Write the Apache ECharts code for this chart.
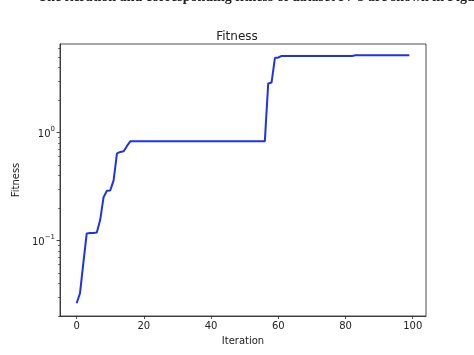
<!DOCTYPE html>
<html>
<head>
<meta charset="utf-8">
<script src="https://cdn.jsdelivr.net/npm/echarts@6/dist/echarts.min.js"></script>
<style>
html,body{margin:0;padding:0;background:#fff;}
#chart{width:474px;height:355px;}
</style>
</head>
<body>
<div id="chart"></div>
<script>
const captionText = 'The iteration and corresponding fitness of dataset IV-5 are shown in Figure';
const chartTitle = 'Fitness';
const xName = 'Iteration';
const yName = 'Fitness';
const xTicks = [0, 20, 40, 60, 80, 100];
const yMajorTicks = [0.1, 1];
const yMinorTicks = [0.02,0.03,0.04,0.05,0.06,0.07,0.08,0.09,0.2,0.3,0.4,0.5,0.6,0.7,0.8,0.9,2,3,4,5,6];
const iterations = [0,1,2,3,4,5,6,7,8,9,10,11,12,13,14,15,16,17,18,19,20,21,22,23,24,25,26,27,28,29,30,31,32,33,34,35,36,37,38,39,40,41,42,43,44,45,46,47,48,49,50,51,52,53,54,55,56,57,58,59,60,61,62,63,64,65,66,67,68,69,70,71,72,73,74,75,76,77,78,79,80,81,82,83,84,85,86,87,88,89,90,91,92,93,94,95,96,97,98,99];
const fitness = [
0.0261,0.0323,0.0617,0.116,0.117,0.117,0.118,0.154,0.25,0.288,
0.29,0.36,0.64,0.66,0.67,0.75,0.83,0.83,0.83,0.83,
0.83,0.83,0.83,0.83,0.83,0.83,0.83,0.83,0.83,0.83,
0.83,0.83,0.83,0.83,0.83,0.83,0.83,0.83,0.83,0.83,
0.83,0.83,0.83,0.83,0.83,0.83,0.83,0.83,0.83,0.83,
0.83,0.83,0.83,0.83,0.83,0.83,0.83,2.84,2.9,4.9,
4.95,5.12,5.12,5.12,5.12,5.12,5.12,5.12,5.12,5.12,
5.12,5.12,5.12,5.12,5.12,5.12,5.12,5.12,5.12,5.12,
5.12,5.12,5.12,5.18,5.18,5.18,5.18,5.18,5.18,5.18,
5.18,5.18,5.18,5.18,5.18,5.18,5.18,5.18,5.18,5.18
];

const seriesData = iterations.map((it, i) => [it, fitness[i]]);
const font = 'DejaVu Sans';
const chart = echarts.init(document.getElementById('chart'), null, {renderer: 'canvas'});
chart.setOption({
  animation: false,
  backgroundColor: '#ffffff',
  graphic: [{
    type: 'text', left: 38, top: -10,
    style: {text: captionText, font: 'bold 14px "Liberation Serif"', fill: '#222'}
  }],
  title: {
    text: chartTitle, left: 'center', top: 26,
    textStyle: {fontFamily: font, fontSize: 12, fontWeight: 'normal', color: '#222'}
  },
  grid: {left: 60, right: 48, top: 44, bottom: 39, show: true, borderColor: '#222', borderWidth: 0.8, backgroundColor: 'transparent'},
  xAxis: {
    type: 'value', min: -4.95, max: 103.95,
    name: xName, nameLocation: 'middle', nameGap: 20,
    nameTextStyle: {fontFamily: font, fontSize: 10, color: '#222'},
    axisLine: {show: true, onZero: false, lineStyle: {color: '#222', width: 0.8}},
    axisTick: {show: true, inside: false, length: 3, lineStyle: {color: '#222', width: 0.8}, customValues: xTicks},
    axisLabel: {fontFamily: font, fontSize: 10, color: '#222', margin: 5, customValues: xTicks},
    splitLine: {show: false}
  },
  yAxis: [{
    type: 'log', logBase: 10, min: 0.0199, max: 6.6,
    name: yName, nameLocation: 'middle', nameGap: 38, nameRotate: 90,
    nameTextStyle: {fontFamily: font, fontSize: 10, color: '#222'},
    axisLine: {show: true, onZero: false, lineStyle: {color: '#222', width: 0.8}},
    axisTick: {show: true, inside: false, length: 3.5, lineStyle: {color: '#222', width: 0.8}, customValues: yMajorTicks},
    axisLabel: {
      fontFamily: font, fontSize: 10, color: '#222', margin: 5, customValues: yMajorTicks,
      formatter: function (v) {
        const e = Math.round(Math.log10(v));
        return '{b|10}{s|' + (e < 0 ? '\u2212' + (-e) : e) + '}';
      },
      rich: {
        b: {fontFamily: font, fontSize: 10, color: '#222', verticalAlign: 'bottom', padding: [4,0,0,0]},
        s: {fontFamily: font, fontSize: 7, color: '#222', verticalAlign: 'top', padding: [0,0,6,0]}
      }
    },
    splitLine: {show: false}
  }, {
    type: 'log', logBase: 10, min: 0.0199, max: 6.6, position: 'left',
    axisLine: {show: false, onZero: false},
    axisTick: {show: true, inside: false, length: 2, lineStyle: {color: '#222', width: 0.6}, customValues: yMinorTicks},
    axisLabel: {show: false},
    splitLine: {show: false}
  }],
  series: [{
    type: 'line', data: seriesData, yAxisIndex: 0,
    showSymbol: false, symbol: 'none',
    lineStyle: {color: '#1f33e6', width: 2},
    clip: true
  }]
});
</script>
</body>
</html>
